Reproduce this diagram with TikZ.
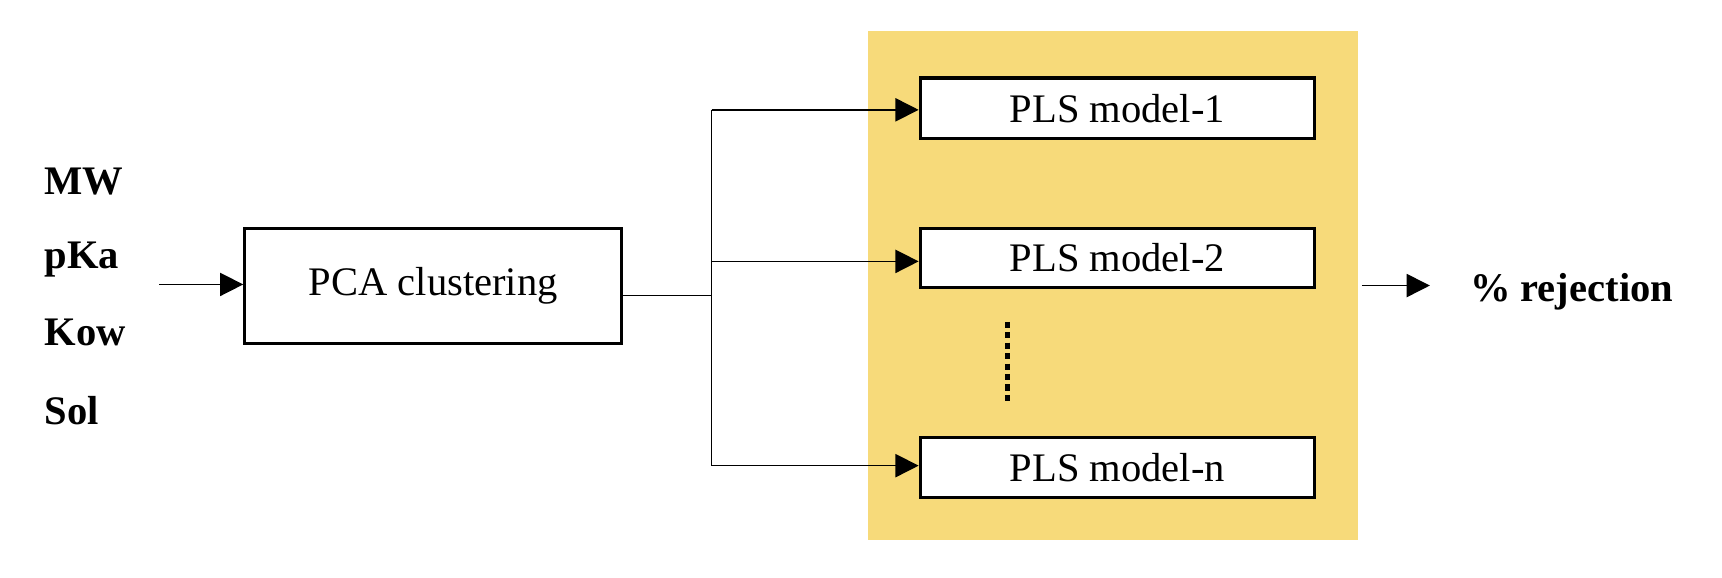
\documentclass[tikz,border=0pt]{standalone}
\usepackage{fontspec}
\setmainfont{Liberation Serif}
\usetikzlibrary{arrows.meta,positioning}
\definecolor{panel}{RGB}{247,218,122}

\begin{document}
\begin{tikzpicture}[x=0.01cm,y=-0.01cm,
  blk/.style={draw, thick, fill=white, inner sep=0pt},
  inp/.style={font=\fontsize{10.5}{12}\selectfont\bfseries, anchor=west, inner sep=0pt},
  arr/.style={-{Triangle[length=6pt,width=6pt]}},
  lbl/.style={font=\fontsize{10.5}{12}\selectfont}]
 \useasboundingbox (0,0) rectangle (1568,526);
 %panel
 \fill[panel] (790,28) rectangle (1237,492);
 %boxes
 \node[blk, minimum width=3.43cm, minimum height=1.05cm, lbl] (pca) at (394.5,260.5) {PCA clustering};
 \node[blk, minimum width=3.59cm, minimum height=0.55cm, lbl] (pls1) at (1017.5,98.5) {PLS model-1};
 \node[blk, minimum width=3.59cm, minimum height=0.54cm, lbl] (pls2) at (1017.5,235) {PLS model-2};
 \node[blk, minimum width=3.59cm, minimum height=0.55cm, lbl] (plsn) at (1017.5,425.5) {PLS model-n};

 %inputs
 \node[inp] (mw)  at (40,165) {MW};
 \node[inp] (pka) at (40,236) {pKa};
 \node[inp] (kow) at (40,303) {Kow};
 \node[inp] (sol) at (40,374) {Sol};
 \coordinate (in) at (145,259);
 \draw[arr] (in) -- (in -| pca.west);

 %split
 \coordinate (sp) at (648,269);
 \draw (pca.east |- sp) -- (sp);
 \draw (648,100) -- (648,424);
 \draw[arr] (648,100) -- (pls1.west |- 0,100);
 \draw[arr] (648,238) -- (pls2.west |- 0,238);
 \draw[arr] (648,424) -- (plsn.west |- 0,424);

 %dots
 \draw[line width=1.3pt, dash pattern=on 1.6pt off 1.1pt] (917,293) -- (917,366);

 %output
 \coordinate (out) at (1240,260);
 \node[font=\fontsize{10.5}{12}\selectfont\bfseries] (rej) at (1431,266) {\% rejection};
 \draw[arr] (out) -- (1302,260);
\end{tikzpicture}
\end{document}
